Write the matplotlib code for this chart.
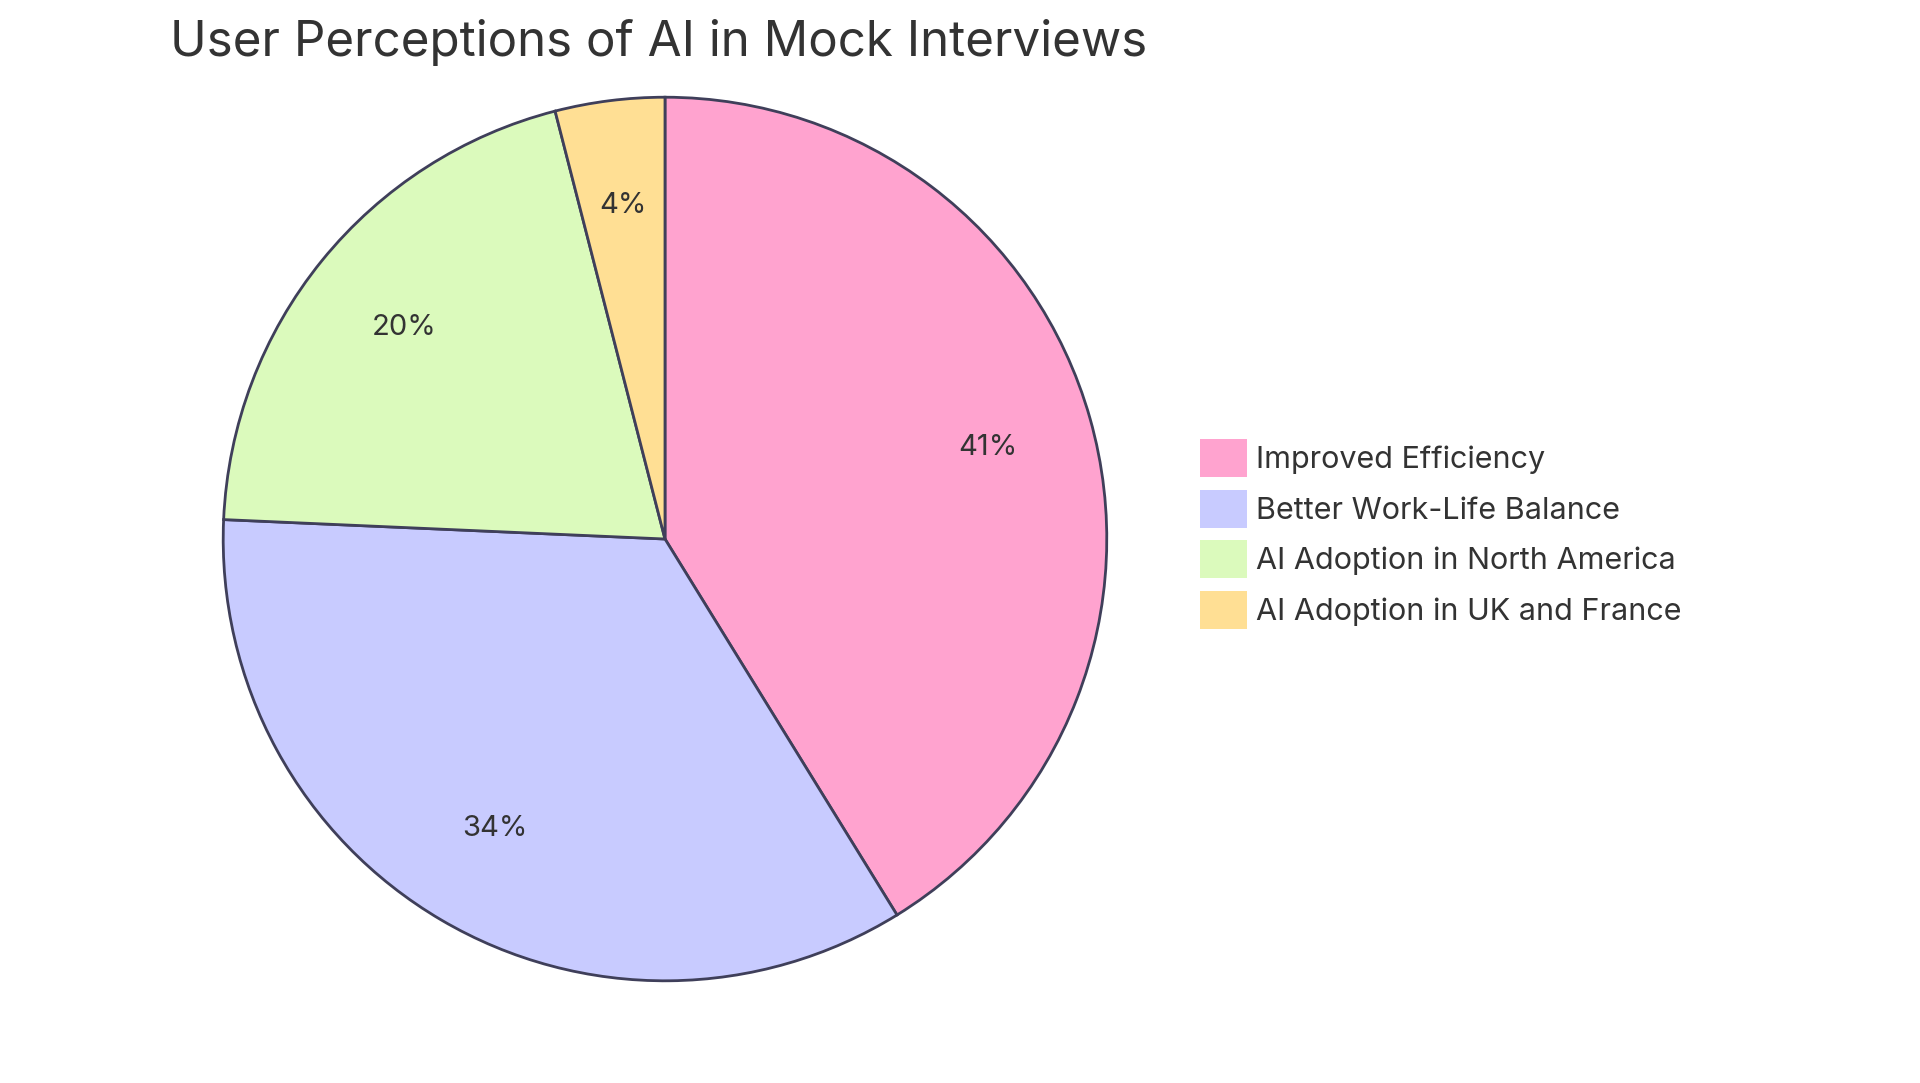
import matplotlib.pyplot as plt

labels = ["Improved Efficiency", "Better Work-Life Balance",
          "AI Adoption in North America", "AI Adoption in UK and France"]
values = [41.2, 34.5, 20.3, 4.0]
colors = ["#FFA3CF", "#C8CBFF", "#DBFABC", "#FFDF94"]

plt.rcParams["font.family"] = ["Inter", "DejaVu Sans"]
fig = plt.figure(figsize=(19.2, 10.83), dpi=100, facecolor="white")
ax = fig.add_axes([0.1151, 0.0923, 0.4625, 0.82])

wedges, texts, autotexts = ax.pie(
    values, colors=colors, startangle=90, counterclock=False,
    autopct=lambda p: f"{p:.0f}%", pctdistance=0.76,
    wedgeprops=dict(edgecolor="#3F3F5A", linewidth=2),
    textprops=dict(fontsize=21, color="#333333"),
)
ax.set_aspect("equal")
ax.set_xlim(-1.005, 1.005)
ax.set_ylim(-1.005, 1.005)

fig.text(170 / 1920, 1 - 43 / 1083, "User Perceptions of AI in Mock Interviews",
         fontsize=35.5, color="#333333", va="center", ha="left")

leg = fig.legend(wedges, labels, loc="center left",
                 bbox_to_anchor=(1172 / 1920, 1 - 534 / 1083), frameon=False,
                 fontsize=22, labelcolor="#333333", handlelength=1.55,
                 handleheight=1.55, handletextpad=0.3, labelspacing=0.4)
for h in leg.legend_handles:
    h.set_edgecolor("none")

fig.savefig("out.png", dpi=100)
